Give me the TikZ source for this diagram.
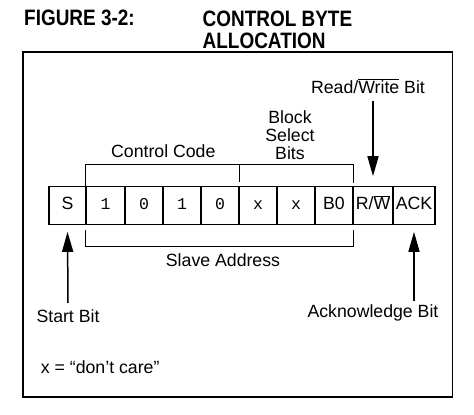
\documentclass[tikz,border=0pt]{standalone}
\usepackage{fontspec}
\usepackage{graphicx}
\setmainfont{Liberation Sans}
\newfontfamily\monof{Liberation Mono}
\usetikzlibrary{arrows.meta}
\newcommand{\ttlbox}[1]{\scalebox{0.85}[1]{#1}}
\begin{document}
\begin{tikzpicture}[x=1pt,y=-1pt,
  lab/.style={font=\fontsize{17.7}{18.2}\selectfont, inner sep=0pt},
  cell/.style={draw, line width=1.1pt, inner sep=0pt, minimum height=37.5pt,
    text height=12.7pt, text depth=4pt, font=\fontsize{17.7}{18}\selectfont},
  mono/.style={font=\fontsize{16.5}{16.5}\monof},
  brk/.style={line width=1pt},
  arr/.style={line width=1.5pt, -{Triangle[length=20pt,width=11pt]}},
  ttl/.style={font=\fontsize{22.3}{22.5}\selectfont\bfseries, inner sep=0pt, anchor=base west}]
\useasboundingbox (0,0) rectangle (474,415);
% title
\node[ttl] (t1) at (24,25) {\ttlbox{FIGURE 3-2:}};
\node[ttl] (t2) at (202.5,26) {\ttlbox{CONTROL BYTE}};
\node[ttl] (t3) at (202.5,48.3) {\ttlbox{ALLOCATION}};
% frame
\node[draw, line width=1.3pt, inner sep=0pt, minimum width=429.5pt, minimum height=345pt] (frame) at (237.75,224.5) {};
% cells
\node[cell, minimum width=37pt] (c0) at (67.5,205.5) {S};
\node[cell, mono, minimum width=39pt] (c1) at (105.5,205.5) {1};
\node[cell, mono, minimum width=38pt] (c2) at (144,205.5) {0};
\node[cell, mono, minimum width=38pt] (c3) at (182,205.5) {1};
\node[cell, mono, minimum width=38pt] (c4) at (220,205.5) {0};
\node[cell, mono, minimum width=38pt] (c5) at (258,205.5) {x};
\node[cell, mono, minimum width=38pt] (c6) at (296,205.5) {x};
\node[cell, minimum width=38pt] (c7) at (334,205.5) {B0};
\node[cell, minimum width=40pt] (c8) at (373,205.5) {R/$\overline{\hbox{W}}$};
\node[cell, minimum width=42pt] (c9) at (414,205.5) {ACK};
% top bracket
\coordinate (tb) at (0,164.3);
\draw[brk] (c1.north west) -- (c1.north west |- tb) -- (c7.north east |- tb) -- ([yshift=3pt]c7.north east);
\draw[line width=1.8pt] (c4.north east |- tb) -- ++(0,18);
% bottom bracket
\coordinate (bb) at (0,246);
\draw[brk] ([yshift=-5pt]c1.south west) -- (c1.south west |- bb) -- (c7.south east |- bb) -- ([yshift=-5pt]c7.south east);
% labels
\node[lab] (cc) at (163.3,151.5) {Control Code};
\node[lab, align=center] (bsb) at (290,135) {Block\\Select\\Bits};
\node[lab] (rwl) at (368,86) {Read/$\overline{\hbox{Write}}$ Bit};
\node[lab] (sa) at (223,260.5) {Slave Address};
\node[lab] (sb) at (68,315.7) {Start Bit};
\node[lab] (ak) at (373,312.5) {Acknowledge Bit};
\node[lab, anchor=west] (dc) at (40.7,367) {x = “don’t care”};
% arrows
\coordinate (rwa) at (rwl.south -| c8.north);
\draw[arr] ([yshift=-7.5pt]rwa) -- ([yshift=10pt]c8.north);
\draw[arr] ([yshift=6pt]sb.north) -- ([yshift=-7pt]c0.south);
\coordinate (aka) at (ak.north -| c9.south);
\draw[arr] ([yshift=3.5pt]aka) -- ([yshift=-7pt]c9.south);
\end{tikzpicture}
\end{document}
